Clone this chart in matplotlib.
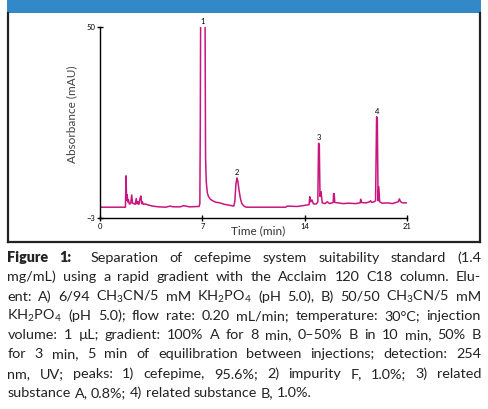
import matplotlib
matplotlib.use("Agg")
import matplotlib.pyplot as plt
from matplotlib.patches import Rectangle
from matplotlib.lines import Line2D

plt.rcParams["font.family"] = ["Lato", "DejaVu Sans"]
plt.rcParams["mathtext.fontset"] = "custom"
plt.rcParams["mathtext.rm"] = "Lato"
plt.rcParams["mathtext.default"] = "regular"

# Chromatogram trace (time in min, absorbance in mAU)
time_min = [0.0, 1.74, 1.78, 1.82, 1.86, 1.90, 1.95, 2.00, 2.10, 2.17, 2.22, 2.30,
            2.40, 2.48, 2.53, 2.60, 2.66, 2.75, 2.80, 2.85, 2.90, 2.95, 3.10, 3.30,
            3.60, 4.00, 4.50, 4.80, 5.00, 5.50, 5.70, 5.90, 6.10, 6.78, 6.83, 6.86,
            6.89, 7.18, 7.22, 7.27, 7.34, 7.42, 7.55, 7.70, 7.90, 8.20, 8.50, 8.90,
            9.15, 9.22, 9.30, 9.37, 9.43, 9.50, 9.60, 9.70, 9.85, 10.0, 11.0, 12.0,
            12.7, 12.8, 13.5, 14.0, 14.30, 14.35, 14.42, 14.50, 14.60, 14.80, 14.90,
            14.95, 15.00, 15.05, 15.12, 15.20, 15.40, 15.55, 15.70, 15.95, 15.98,
            16.02, 16.06, 16.30, 16.60, 17.00, 17.50, 17.80, 17.83, 17.88, 18.20,
            18.45, 18.50, 18.60, 18.75, 18.85, 18.92, 18.97, 19.02, 19.07, 19.13,
            19.30, 19.70, 20.00, 20.40, 20.48, 20.56, 20.70, 21.0]
absorbance = [0.0, 0.0, 8.7, 2.0, 3.5, 1.5, 2.0, 0.9, 1.0, 3.4, 1.2, 1.0,
              0.8, 2.4, 0.9, 1.5, 0.8, 2.6, 3.1, 1.0, 1.5, 0.8, 0.9, 0.6,
              0.3, 0.1, 0.0, 0.3, 0.1, 0.1, 0.4, 0.3, 0.1, 0.2, 1.0, 22.8,
              60.0, 60.0, 13.9, 7.0, 4.0, 3.0, 2.2, 1.8, 1.4, 1.2, 0.8, 0.5,
              0.3, 1.5, 6.5, 8.1, 7.2, 5.0, 2.5, 1.0, 0.3, 0.0, 0.0, 0.0,
              0.0, 0.3, 0.2, 0.5, 0.7, 2.9, 1.5, 2.0, 0.9, 0.9, 1.5,
              17.7, 17.5, 3.0, 4.3, 1.2, 1.0, 1.5, 1.0, 1.3, 3.8,
              3.7, 1.3, 1.2, 1.0, 1.1, 1.0, 1.2, 2.2, 1.3, 1.2,
              1.5, 1.8, 1.3, 1.5, 1.8, 25.1, 24.5, 1.8, 5.7, 1.5,
              1.1, 1.2, 1.0, 1.5, 2.3, 1.5, 1.2, 1.2]

peak_labels = ["1", "2", "3", "4"]
peak_times = [7.03, 9.37, 14.97, 18.94]
peak_tops = [50.0, 8.1, 17.7, 25.1]

x_ticks = [0, 7, 14, 21]
y_ticks = [-3, 50]

caption_lines = [
    "Figure 1: Separation of cefepime system suitability standard (1.4",
    "mg/mL) using a rapid gradient with the Acclaim 120 C18 column. Elu-",
    "ent: A) 6/94 CH$_3$CN/5 mM KH$_2$PO$_4$ (pH 5.0), B) 50/50 CH$_3$CN/5 mM",
    "KH$_2$PO$_4$ (pH 5.0); flow rate: 0.20 mL/min; temperature: 30\u00b0C; injection",
    "volume: 1 \u00b5L; gradient: 100% A for 8 min, 0\u201350% B in 10 min, 50% B",
    "for 3 min, 5 min of equilibration between injections; detection: 254",
    "nm, UV; peaks: 1) cefepime, 95.6%; 2) impurity F, 1.0%; 3) related",
    "substance A, 0.8%; 4) related substance B, 1.0%.",
]

W, H = 489, 409
fig = plt.figure(figsize=(W / 100, H / 100), dpi=100)
renderer = fig.canvas.get_renderer()

# Frame: blue bar on top, dark box around the chart
fig.add_artist(Rectangle((7 / W, 1 - 13.3 / H), 474 / W, 13.3 / H,
                         transform=fig.transFigure, color="#3388c8", lw=0))
frame_col = "#222222"
for xs, ys in [([8, 8], [13, 241.5]), ([480, 480], [13, 241.5]), ([8, 480], [241.5, 241.5])]:
    fig.add_artist(Line2D([x / W for x in xs], [1 - y / H for y in ys],
                          transform=fig.transFigure, color=frame_col, lw=1.6))

# Chromatogram
ax = fig.add_axes([100 / W, 1 - 218 / H, 307 / W, 191 / H])
ax.plot(time_min, absorbance, color="#c8167e", lw=1.1)
ax.set_xlim(0, 21)
ax.set_ylim(-3, 50)
ax.set_xticks(x_ticks)
ax.set_yticks(y_ticks)
ax.patch.set_visible(False)
for s in ["top", "right"]:
    ax.spines[s].set_visible(False)
for s in ["left", "bottom"]:
    ax.spines[s].set_linewidth(1.0)
ax.tick_params(direction="inout", length=4, width=1.0, labelsize=5.5, pad=1.5)

for lab, t, top in zip(peak_labels, peak_times, peak_tops):
    ax.annotate(lab, (t, top), xytext=(0, 1.5), textcoords="offset points",
                ha="center", va="bottom", fontsize=5.5, annotation_clip=False)

fig.text(72 / W, 1 - 114 / H, "Absorbance (mAU)", rotation=90, ha="center",
         va="center", fontsize=8.5, color="#444444")
fig.text(258 / W, 1 - 231 / H, "Time (min)", ha="center", va="center",
         fontsize=8.5, color="#333333")

# Justified caption, word by word
cap_size = 10.4
left, right = 7.5, 481.0


def word_width(s, weight="normal"):
    t = fig.text(0, 0, s, fontsize=cap_size, fontweight=weight)
    w = t.get_window_extent(renderer).width
    t.remove()
    return w


space_w = word_width("a a") - word_width("aa")

for i, line in enumerate(caption_lines):
    y = 1 - (262 + 19.3 * i) / H
    words = line.split(" ")
    weights = ["heavy" if (i == 0 and j < 2) else "normal" for j in range(len(words))]
    widths = [word_width(w, wt) for w, wt in zip(words, weights)]
    gap_w = [1.0] * (len(words) - 1)
    if i == 0:
        gap_w[1] = 1.7
    if i < len(caption_lines) - 1:
        unit = (right - left - sum(widths)) / sum(gap_w)
    else:
        unit = space_w
    x = left
    for j, (w, wt, wd) in enumerate(zip(words, weights, widths)):
        fig.text(x / W, y, w, fontsize=cap_size, fontweight=wt, ha="left",
                 va="baseline", color="#222222")
        x += wd
        if j < len(gap_w):
            x += unit * gap_w[j]

fig.savefig("out.png", dpi=100)
